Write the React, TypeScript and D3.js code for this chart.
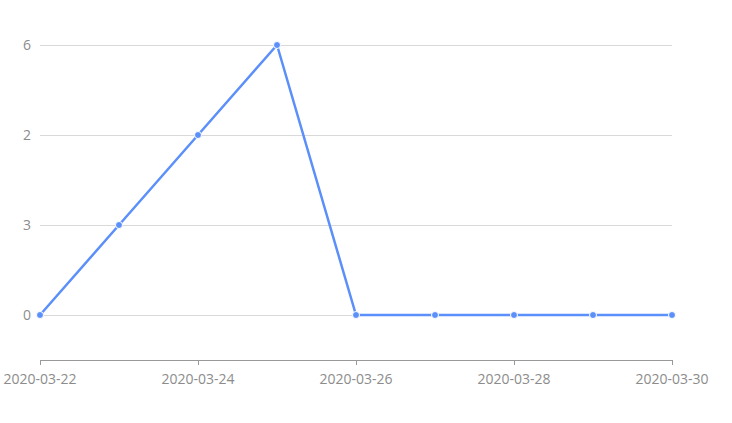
import React from "react";
import * as d3 from "d3";

const dates = ["2020-03-22","2020-03-23","2020-03-24","2020-03-25","2020-03-26","2020-03-27","2020-03-28","2020-03-29","2020-03-30"];
const values = ["0","3","2","6","0","0","0","0","0"];
const yCategories = ["0","3","2","6"];
const xTickLabels = ["2020-03-22","2020-03-24","2020-03-26","2020-03-28","2020-03-30"];

const W = 732, H = 423;
const M = { left: 40, right: 60, top: 0, bottom: 63 };

export default function App() {
  const parse = d3.timeParse("%Y-%m-%d");
  const x = d3.scaleTime()
    .domain([parse(dates[0])!, parse(dates[dates.length - 1])!])
    .range([M.left, W - M.right]);
  const yb = d3.scaleBand().domain(yCategories).range([H - M.bottom, M.top]);
  const y = (v: string) => yb(v)! + yb.bandwidth() / 2;
  const pts = dates.map((d, i) => [x(parse(d)!), y(values[i])] as [number, number]);
  const line = d3.line()(pts)!;
  const font = "'Open Sans', sans-serif";
  const axisY = H - M.bottom;
  return (
    <svg width={W} height={H} style={{ position: "absolute", left: 0, top: 0, background: "#fff" }}>
      {yCategories.map(c => (
        <g key={c}>
          <line x1={M.left} x2={W - M.right} y1={y(c) + 0.5} y2={y(c) + 0.5} stroke="#d9d9d9" strokeWidth={1} />
          <text x={31} y={y(c)} dy="0.35em" textAnchor="end" fontSize={14} fontFamily={font} fill="#8c8c8c">{c}</text>
        </g>
      ))}
      <line x1={M.left} x2={W - M.right} y1={axisY + 0.5} y2={axisY + 0.5} stroke="#999" strokeWidth={1} />
      {xTickLabels.map(t => {
        const xx = x(parse(t)!);
        return (
          <g key={t}>
            <line x1={xx + 0.5} x2={xx + 0.5} y1={axisY} y2={axisY + 5} stroke="#999" strokeWidth={1} />
            <text x={xx} y={axisY + 19} dy="0.35em" textAnchor="middle" fontSize={14} fontFamily={font} fill="#8c8c8c">{t}</text>
          </g>
        );
      })}
      <path d={line} fill="none" stroke="#5B8FF9" strokeWidth={2.5} strokeLinejoin="round" />
      {pts.map((p, i) => (
        <circle key={i} cx={p[0]} cy={p[1]} r={3.5} fill="#5B8FF9" stroke="#fff" strokeWidth={1} />
      ))}
    </svg>
  );
}
